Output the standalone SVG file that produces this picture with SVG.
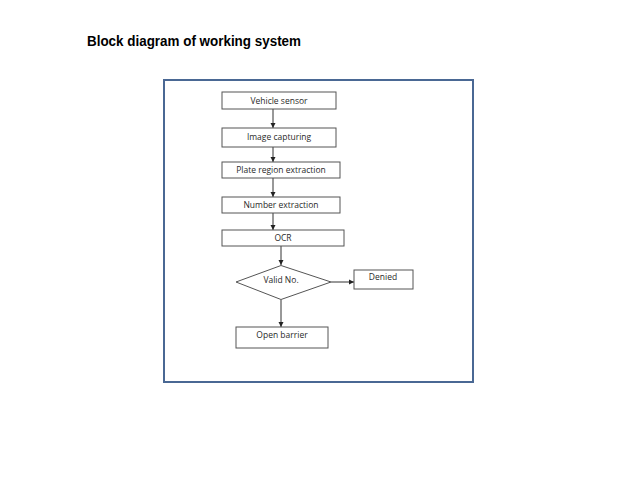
<svg xmlns="http://www.w3.org/2000/svg" width="638" height="479" viewBox="0 0 638 479">
<style>
.box{fill:#fff;stroke:#555;stroke-width:1}
.lbl{font-family:"Open Sans","Liberation Sans",sans-serif;font-size:8.5px;fill:#2a2a2a;text-anchor:middle}
.con{stroke:#333;stroke-width:1;fill:none;marker-end:url(#ah)}
</style>
<defs>
<marker id="ah" markerWidth="6" markerHeight="6" refX="5" refY="3" orient="auto" markerUnits="userSpaceOnUse">
<path d="M0,0.5 L5,3 L0,5.5 z" fill="#222"/>
</marker>
</defs>
<rect width="638" height="479" fill="#fff"/>
<text x="87" y="46" font-family="Liberation Sans,Arial,sans-serif" font-weight="bold" font-size="14" textLength="214" lengthAdjust="spacingAndGlyphs" fill="#000">Block diagram of working system</text>
<rect id="frame" x="164" y="80" width="309" height="302" fill="none" stroke="#4a6894" stroke-width="2"/>
<g id="connectors">
<line class="con" x1="273" y1="109" x2="273" y2="128"/>
<line class="con" x1="273" y1="147" x2="273" y2="162"/>
<line class="con" x1="273" y1="178" x2="273" y2="197"/>
<line class="con" x1="273" y1="213" x2="273" y2="230"/>
<line class="con" x1="281" y1="246" x2="281" y2="265"/>
<line class="con" x1="331" y1="282" x2="354" y2="282"/>
<line class="con" x1="281" y1="300" x2="281" y2="327"/>
</g>
<g id="vehicle-sensor"><rect class="box" x="222" y="92" width="114" height="17"/><text class="lbl" x="279" y="103.5">Vehicle sensor</text></g>
<g id="image-capturing"><rect class="box" x="222" y="128" width="114" height="19"/><text class="lbl" x="279" y="140">Image capturing</text></g>
<g id="plate-region"><rect class="box" x="222" y="162" width="118" height="16"/><text class="lbl" x="281" y="173">Plate region extraction</text></g>
<g id="number-extraction"><rect class="box" x="222" y="197" width="118" height="16"/><text class="lbl" x="281" y="207.5">Number extraction</text></g>
<g id="ocr"><rect class="box" x="222" y="230" width="122" height="16"/><text class="lbl" x="283" y="241">OCR</text></g>
<g id="valid"><polygon class="box" points="236,282 281,265.5 331,282 281,299.5"/><text class="lbl" x="281" y="283">Valid No.</text></g>
<g id="denied"><rect class="box" x="354" y="270" width="59" height="19"/><text class="lbl" x="383" y="280">Denied</text></g>
<g id="open-barrier"><rect class="box" x="236" y="327" width="92" height="21"/><text class="lbl" x="282" y="338">Open barrier</text></g>
</svg>
